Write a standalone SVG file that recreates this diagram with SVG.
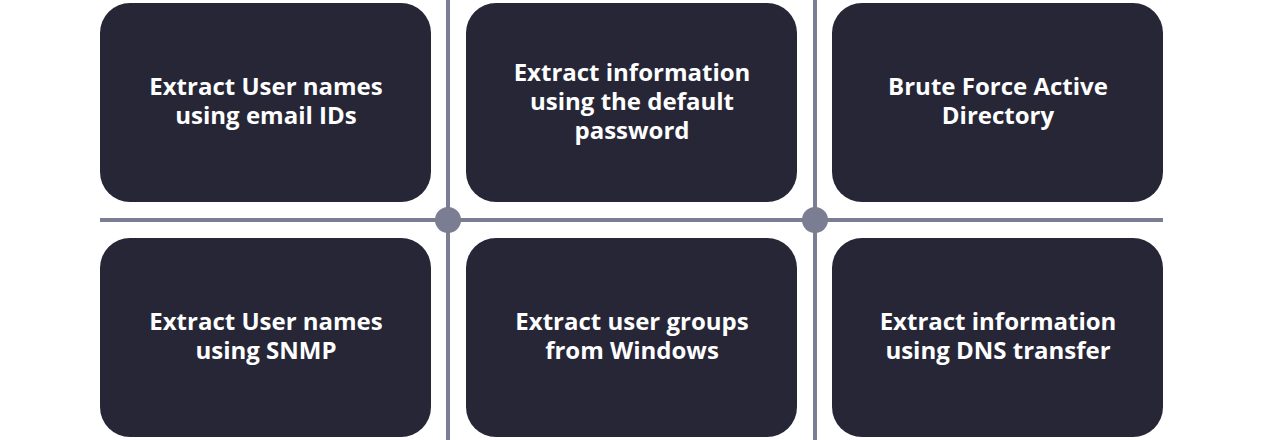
<svg xmlns="http://www.w3.org/2000/svg" width="1272" height="440" viewBox="0 0 1272 440">
<style>
.box{fill:#262637}
.ln{stroke:#7b7d93;stroke-width:4;fill:none}
.dot{fill:#7b7d93}
text{font-family:"Open Sans","Noto Sans",sans-serif;font-weight:bold;font-size:24px;fill:#fff;text-anchor:middle}
</style>
<rect width="1272" height="440" fill="#fff"/>
<g id="connectors">
<line class="ln" x1="448" y1="0" x2="448" y2="440"/>
<line class="ln" x1="815" y1="0" x2="815" y2="440"/>
<line class="ln" x1="100" y1="220" x2="1163" y2="220"/>
<circle class="dot" cx="448" cy="220" r="13"/>
<circle class="dot" cx="815" cy="220" r="13"/>
</g>
<g id="n1"><rect class="box" x="100" y="3" width="331" height="199" rx="30"/><text x="266" y="95">Extract User names</text><text x="266" y="124">using email IDs</text></g>
<g id="n2"><rect class="box" x="466" y="3" width="331" height="199" rx="30"/><text x="632" y="81">Extract information</text><text x="632" y="110">using the default</text><text x="632" y="139">password</text></g>
<g id="n3"><rect class="box" x="832" y="3" width="331" height="199" rx="30"/><text x="998" y="95">Brute Force Active</text><text x="998" y="124">Directory</text></g>
<g id="n4"><rect class="box" x="100" y="238" width="331" height="199" rx="30"/><text x="266" y="330">Extract User names</text><text x="266" y="359">using SNMP</text></g>
<g id="n5"><rect class="box" x="466" y="238" width="331" height="199" rx="30"/><text x="632" y="330">Extract user groups</text><text x="632" y="359">from Windows</text></g>
<g id="n6"><rect class="box" x="832" y="238" width="331" height="199" rx="30"/><text x="998" y="330">Extract information</text><text x="998" y="359">using DNS transfer</text></g>
</svg>
